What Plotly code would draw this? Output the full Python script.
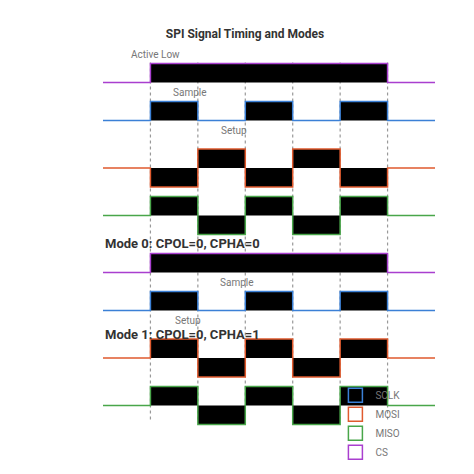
import plotly.graph_objects as go

# time slots: edges at 0..7, bits for slots 0..6 (idle, 5 bits, idle)
EDGES = list(range(8))
CS_BITS = [0, 1, 1, 1, 1, 1, 0]
SCLK_BITS = [0, 1, 0, 1, 0, 1, 0]
MODE0_MOSI = [0, -1, 1, -1, 1, -1, 0]
MODE0_MISO = [0, 1, -1, 1, -1, 1, 0]
MODE1_MOSI = [0, 1, -1, 1, -1, 1, 0]
MODE1_MISO = [0, 1, -1, 1, -1, 1, 0]

MODE0_BASE = {"CS": 0, "SCLK": -2, "MOSI": -4.5, "MISO": -7}
MODE1_BASE = {"CS": -10, "SCLK": -12, "MOSI": -14.5, "MISO": -17}

COLORS = {"CS": "#a93fcf", "SCLK": "#3b80d6", "MOSI": "#e05a2e", "MISO": "#49a64a"}
LEGEND_ORDER = ["SCLK", "MOSI", "MISO", "CS"]

fig = go.Figure()

# clock edge markers
vx, vy = [], []
for e in EDGES[1:-1]:
    vx += [e, e, None]
    vy += [1.05, -17.9, None]
fig.add_trace(go.Scatter(x=vx, y=vy, mode="lines", showlegend=False,
                         line=dict(color="#999999", width=1.2, dash="dot")))


def add_signal(name, bits, base):
    ys = [base + b for b in bits] + [base + bits[-1]]
    fig.add_trace(go.Scatter(x=EDGES, y=[base] * len(EDGES), mode="lines",
                             line=dict(width=0, shape="hv"), showlegend=False,
                             hoverinfo="skip"))
    fig.add_trace(go.Scatter(x=EDGES, y=ys, mode="lines", name=name,
                             line=dict(color=COLORS[name], width=1.5, shape="hv"),
                             fill="tonexty", fillcolor="black", showlegend=False))


for bits, base in [(CS_BITS, MODE0_BASE), (SCLK_BITS, MODE0_BASE), (MODE0_MOSI, MODE0_BASE),
                   (MODE0_MISO, MODE0_BASE)]:
    pass
add_signal("CS", CS_BITS, MODE0_BASE["CS"])
add_signal("SCLK", SCLK_BITS, MODE0_BASE["SCLK"])
add_signal("MOSI", MODE0_MOSI, MODE0_BASE["MOSI"])
add_signal("MISO", MODE0_MISO, MODE0_BASE["MISO"])
add_signal("CS", CS_BITS, MODE1_BASE["CS"])
add_signal("SCLK", SCLK_BITS, MODE1_BASE["SCLK"])
add_signal("MOSI", MODE1_MOSI, MODE1_BASE["MOSI"])
add_signal("MISO", MODE1_MISO, MODE1_BASE["MISO"])

# legend entries drawn as open squares
for name in LEGEND_ORDER:
    fig.add_trace(go.Scatter(x=[None], y=[None], mode="markers", name=name,
                             marker=dict(symbol="square-open", size=14,
                                         color=COLORS[name], line=dict(width=1.5))))

for name, base in MODE0_BASE.items():
    fig.add_annotation(x=-1.2, y=base + 0.7, text=name, showarrow=False,
                       font=dict(size=12, color="#222"))

notes = [(1.1, 1.5, "Active Low"), (1.83, -0.55, "Sample"), (2.77, -2.55, "Setup"),
         (2.83, -10.55, "Sample"), (1.8, -12.55, "Setup")]
for x, y, t in notes:
    fig.add_annotation(x=x, y=y, text=t, showarrow=False,
                       font=dict(size=10, color="#777"))

fig.add_annotation(x=0, y=-8.47, text="<b>Mode 0: CPOL=0, CPHA=0</b>", xanchor="left",
                   showarrow=False, font=dict(size=13, color="#333"))
fig.add_annotation(x=0, y=-13.26, text="<b>Mode 1: CPOL=0, CPHA=1</b>", xanchor="left",
                   showarrow=False, font=dict(size=13, color="#333"))

fig.update_layout(
    width=474, height=474,
    margin=dict(l=95, r=47, t=46, b=48, autoexpand=False),
    title=dict(text="<b>SPI Signal Timing and Modes</b>", x=0.5, y=0.955,
               font=dict(size=12, color="#333")),
    font=dict(family="Roboto, Liberation Sans, sans-serif"),
    plot_bgcolor="white", paper_bgcolor="white",
    xaxis=dict(range=[0, 7], visible=False),
    yaxis=dict(range=[-18.5, 1.5], visible=False),
    legend=dict(x=0.7, y=0.14, xanchor="left", yanchor="top", traceorder="normal",
                bgcolor="rgba(0,0,0,0)", font=dict(size=10, color="#777"),
                tracegroupgap=0, itemwidth=30),
)

fig.write_html("out.html")
